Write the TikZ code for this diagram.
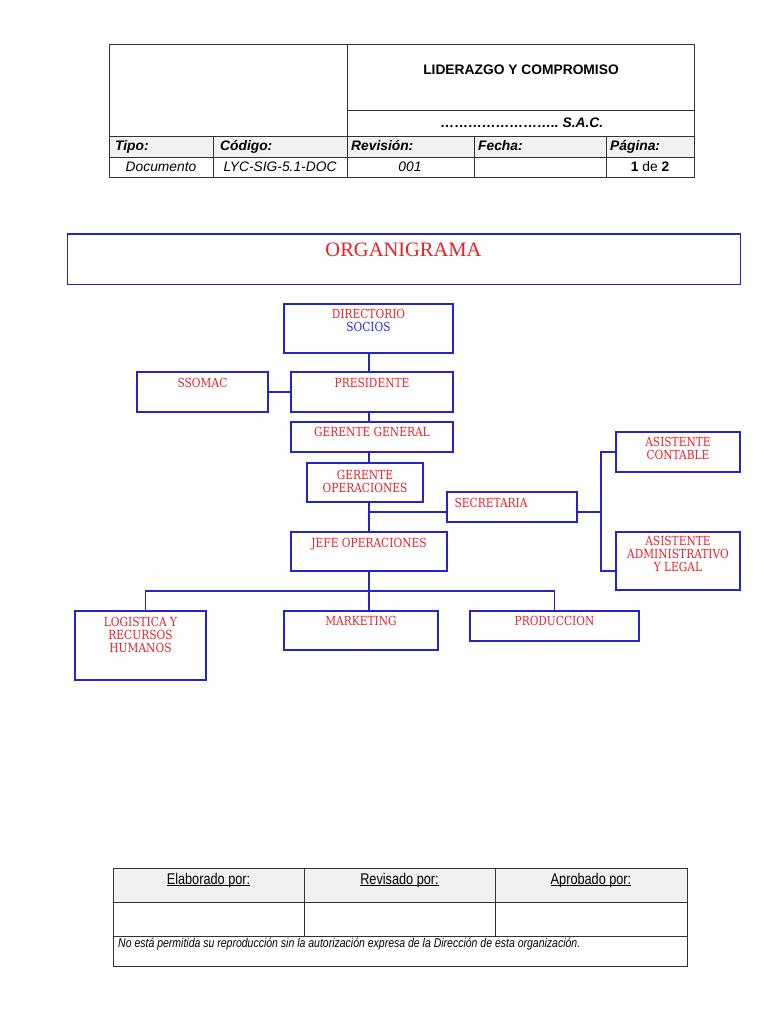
\documentclass[tikz,border=0pt]{standalone}
\usepackage{fontspec}
\usepackage{xcolor}
\usepackage{tikz}
\usetikzlibrary{positioning}
\newfontfamily\arialfont{Liberation Sans}
\newfontfamily\narrowfont[FakeStretch=0.82]{Liberation Sans}
\newfontfamily\timesfont{Liberation Serif}
\newfontfamily\slabfont[FakeStretch=0.85]{DejaVu Serif}
\definecolor{orgred}{RGB}{232,32,40}
\definecolor{orgblue}{RGB}{36,36,200}
\definecolor{sociosblue}{RGB}{40,40,220}
\definecolor{gridgray}{RGB}{50,50,50}
\definecolor{headfill}{RGB}{241,241,241}
\newcommand{\ulbox}[1]{\setbox0\hbox{#1}\rlap{\rule[-1.8pt]{\wd0}{0.9pt}}\box0}
\tikzstyle{orgbox} = [draw=orgblue, line width=1.2pt, rectangle, inner sep=0pt]
\tikzstyle{orgtext} = [text=orgred, font=\slabfont\fontsize{12.5}{13}\selectfont,
    align=center, inner sep=0pt]
\tikzstyle{link} = [draw=orgblue, line width=1.2pt]
\tikzstyle{cell} = [font=\arialfont\fontsize{13.8}{15}\selectfont, inner sep=0pt]
\tikzstyle{foot} = [font=\narrowfont\fontsize{15.5}{17}\selectfont, inner sep=0pt]

\begin{document}
\begin{tikzpicture}[x=1pt,y=-1pt]
\useasboundingbox[fill=white] (0,0) rectangle (768,1024);

% cabecera
\fill[headfill] (109,136) rectangle (694,157);
\draw[gridgray, line width=0.9pt] (109,44) rectangle (694,177);
\draw[gridgray, line width=0.9pt] (347,110) -- (694,110);
\draw[gridgray, line width=0.9pt] (109,136) -- (694,136);
\draw[gridgray, line width=0.9pt] (109,157) -- (694,157);
\draw[gridgray, line width=0.9pt] (347,44) -- (347,177);
\foreach \cx in {213,474,606}
  \draw[gridgray, line width=0.9pt] (\cx,136) -- (\cx,177);

\node[cell] (titulo) at (521,70) {\bfseries LIDERAZGO Y COMPROMISO};
\node[cell, anchor=base] (empresa) at (522,128) {\bfseries\itshape ……………………..\ S.A.C.};
\node[cell, anchor=base west] (tipo) at (115,151) {\bfseries\itshape Tipo:};
\node[cell, anchor=base west] (codigo) at (220,151) {\bfseries\itshape Código:};
\node[cell, anchor=base west] (revision) at (351,151) {\bfseries\itshape Revisión:};
\node[cell, anchor=base west] (fecha) at (478,151) {\bfseries\itshape Fecha:};
\node[cell, anchor=base west] (pagina) at (610,151) {\bfseries\itshape Página:};
\node[cell, anchor=base] (documento) at (161,172) {\itshape Documento};
\node[cell, anchor=base] (codnum) at (280,172) {\itshape LYC-SIG-5.1-DOC};
\node[cell, anchor=base] (revnum) at (410,172) {\itshape 001};
\node[cell, anchor=base] (pagnum) at (650,172) {\textbf{1} de \textbf{2}};

% titulo organigrama
\node[orgbox, line width=1pt, minimum width=673pt, minimum height=50pt] (orgtitle) at (403.5,259) {};
\node[text=orgred, font=\timesfont\fontsize{20.5}{22}\selectfont, inner sep=0pt,
  below=9pt of orgtitle.north] (orgname) {ORGANIGRAMA};

% cajas
\node[orgbox, minimum width=169pt, minimum height=49pt] (dir) at (368.5,328.5) {};
\node[orgbox, minimum width=131pt, minimum height=40pt] (ssomac) at (202.5,392) {};
\node[orgbox, minimum width=162pt, minimum height=40pt] (pres) at (372,392) {};
\node[orgbox, minimum width=162pt, minimum height=30pt] (gg) at (372,437) {};
\node[orgbox, minimum width=116pt, minimum height=39pt] (gop) at (365,482.5) {};
\node[orgbox, minimum width=130pt, minimum height=30pt] (sec) at (512,507) {};
\node[orgbox, minimum width=156pt, minimum height=39pt] (jefe) at (369,551.5) {};
\node[orgbox, minimum width=124pt, minimum height=40pt] (acont) at (678,452) {};
\node[orgbox, minimum width=124pt, minimum height=58pt] (aadm) at (678,561) {};
\node[orgbox, minimum width=131pt, minimum height=69pt] (log) at (140.5,645.5) {};
\node[orgbox, minimum width=154pt, minimum height=39pt] (mkt) at (361,630.5) {};
\node[orgbox, minimum width=169pt, minimum height=30pt] (prod) at (554.5,626) {};

% textos
\node[orgtext, below=6pt of dir.north] (dirtxt) {DIRECTORIO\\\textcolor{sociosblue}{SOCIOS}};
\node[orgtext, below=7pt of ssomac.north] (ssomactxt) {SSOMAC};
\node[orgtext, below=7pt of pres.north] (prestxt) {PRESIDENTE};
\node[orgtext, below=6pt of gg.north] (ggtxt) {GERENTE GENERAL};
\node[orgtext, below=8pt of gop.north] (goptxt) {GERENTE\\OPERACIONES};
\node[orgtext, below right=7pt and 8pt of sec.north west] (sectxt) {SECRETARIA};
\node[orgtext, below=7pt of jefe.north] (jefetxt) {JEFE OPERACIONES};
\node[orgtext, below=6pt of acont.north] (aconttxt) {ASISTENTE\\CONTABLE};
\node[orgtext, below=5pt of aadm.north] (aadmtxt) {ASISTENTE\\ADMINISTRATIVO\\Y LEGAL};
\node[orgtext, below=7pt of log.north] (logtxt) {LOGISTICA Y\\RECURSOS\\HUMANOS};
\node[orgtext, below=6pt of mkt.north] (mkttxt) {MARKETING};
\node[orgtext, below=6pt of prod.north] (prodtxt) {PRODUCCION};

% lineas
\coordinate (trunk) at (369,0);
\coordinate (split) at (601,512);
\coordinate (bus) at (369,591);
\draw[link] (trunk |- dir.south) -- (trunk |- pres.north);
\draw[link] (ssomac.east) -- (pres.west);
\draw[link] (trunk |- pres.south) -- (trunk |- gg.north);
\draw[link] (trunk |- gg.south) -- (trunk |- gop.north);
\draw[link] (trunk |- gop.south) -- (trunk |- jefe.north);
\draw[link] (trunk |- split) -- (sec.west |- split);
\draw[link] (sec.east |- split) -- (split);
\draw[link] (acont.west) -| (split) |- ([yshift=-10pt]aadm.west);
\draw[link] (trunk |- jefe.south) -- (trunk |- mkt.north);
\draw[link] ([xshift=5pt]log.north) |- (bus) -| (prod.north);

% pie
\fill[headfill] (113,868) rectangle (687,902);
\draw[gridgray, line width=0.9pt] (113,868) rectangle (687,966);
\draw[gridgray, line width=0.9pt] (113,902) -- (687,902);
\draw[gridgray, line width=0.9pt] (113,936) -- (687,936);
\foreach \cx in {304,495}
  \draw[gridgray, line width=0.9pt] (\cx,868) -- (\cx,936);
\node[foot, anchor=base] (elab) at (208.5,884) {\ulbox{Elaborado por:}};
\node[foot, anchor=base] (revi) at (399.5,884) {\ulbox{Revisado por:}};
\node[foot, anchor=base] (apro) at (591,884) {\ulbox{Aprobado por:}};
\node[foot, font=\narrowfont\fontsize{12.8}{14}\selectfont, anchor=base west] (aviso) at (118,947)
  {\itshape No está permitida su reproducción sin la autorización expresa de la Dirección de esta organización.};

\end{tikzpicture}
\end{document}
